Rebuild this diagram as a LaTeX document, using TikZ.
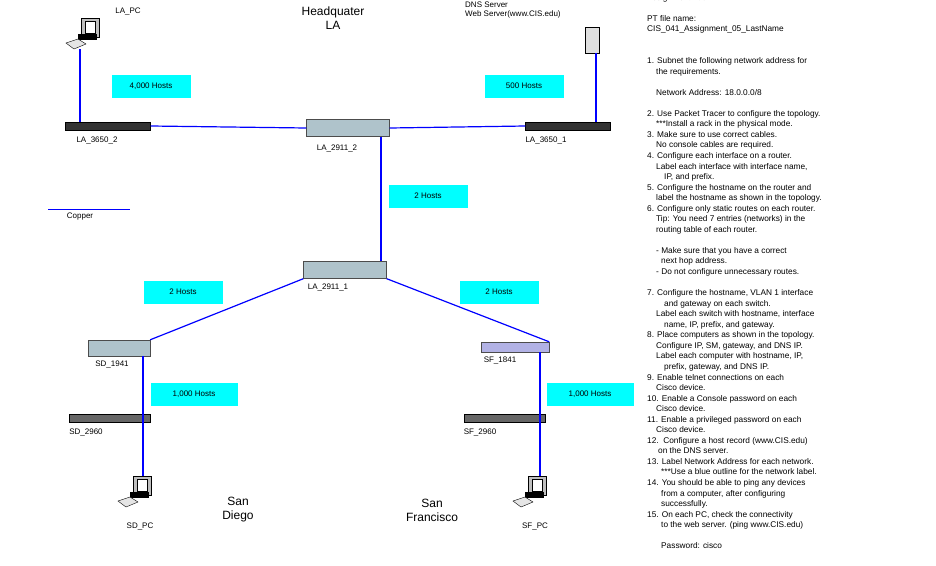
\documentclass[tikz,border=0pt]{standalone}
\usepackage{fontspec}
\setmainfont{Liberation Sans}
\definecolor{hostcyan}{RGB}{0,255,255}
\definecolor{linkblue}{RGB}{0,0,255}
\begin{document}
\begin{tikzpicture}[x=1pt,y=-1pt,
	link/.style={draw=linkblue, line width=1.2pt},
	hosts/.style={fill=hostcyan, minimum width=79pt, minimum height=23pt, inner sep=0pt, font=\fontsize{8}{9}\selectfont},
	lbl/.style={font=\fontsize{8}{9}\selectfont, inner sep=0pt},
	city/.style={font=\fontsize{12}{14}\selectfont, align=center, inner sep=0pt},
	router/.style={draw=gray!60!black, fill=cyan!25!gray!60, minimum width=83pt, minimum height=17pt, inner sep=0pt},
	switch/.style={draw=black, fill=black!80, minimum width=85pt, minimum height=8pt, inner sep=0pt},
	pc/.style={minimum width=44pt, minimum height=40pt, inner sep=0pt,
		path picture={
			\coordinate (c) at (path picture bounding box.center);
			\fill[gray!50, draw=black] ([shift={(-4pt,16pt)}]c) rectangle ([shift={(14pt,-3pt)}]c);
			\fill[white, draw=black] ([shift={(0pt,13pt)}]c) rectangle ([shift={(10pt,1pt)}]c);
			\fill[black] ([shift={(-7pt,0pt)}]c) rectangle ([shift={(12pt,-6pt)}]c);
			\fill[gray!20, draw=black] ([shift={(-19pt,-9pt)}]c) -- ([shift={(-7pt,-5pt)}]c) -- ([shift={(1pt,-10pt)}]c) -- ([shift={(-11pt,-15pt)}]c) -- cycle;
		}},
	server/.style={draw=black, fill=gray!25, minimum width=14pt, minimum height=26pt, inner sep=0pt}]
\useasboundingbox (0,0) rectangle (936,565);
% headquarter
\node[city] (hq) at (333,18) {Headquater\\LA};
\node[pc] (lapc) at (85,34) {};
\node[lbl] (lapclbl) at (128,12) {LA\_PC};
\node[server] (srv) at (592,40) {};
\node[lbl, align=left, anchor=west] (srvlbl) at (465,10) {DNS Server\\Web Server(www.CIS.edu)};
\node[switch] (la2) at (108,126) {};
\node[lbl] at (97,140) {LA\_3650\_2};
\node[router] (r2) at (348,128) {};
\node[lbl] at (337,148) {LA\_2911\_2};
\node[switch] (la1) at (568,126) {};
\node[lbl] at (546,140) {LA\_3650\_1};
\node[router] (r1) at (345,270) {};
\node[lbl] at (328,287) {LA\_2911\_1};
% san diego / san francisco
\node[router, minimum width=62pt, minimum height=16pt] (sd) at (119,348) {};
\node[lbl] at (112,364) {SD\_1941};
\node[router, fill=gray!50!blue!40, minimum width=68pt, minimum height=10pt] (sf) at (515,347) {};
\node[lbl] at (500,360) {SF\_1841};
\node[switch, fill=black!60, minimum width=81pt] (sdsw) at (110,418) {};
\node[lbl] at (86,432) {SD\_2960};
\node[switch, fill=black!60, minimum width=81pt] (sfsw) at (505,418) {};
\node[lbl] at (480,432) {SF\_2960};
\node[pc] (sdpc) at (137,492) {};
\node[lbl] at (140,526) {SD\_PC};
\node[pc] (sfpc) at (532,492) {};
\node[lbl] at (535,526) {SF\_PC};
\node[city] at (238,510) {San\\Diego};
\node[city] at (432,510) {San\\Francisco};
% links
\draw[link] ([yshift=5pt]lapc.south -| 80,0) -- (la2.north -| 80,0);
\draw[link] (la2.east) -- (r2.west);
\draw[link] (r2.east) -- (la1.west);
\draw[link] (srv.south -| 596,0) -- (la1.north -| 596,0);
\draw[link] (r2.south -| 381,0) -- (r1.north -| 381,0);
\draw[link] (r1.south west) -- (sd.north east);
\draw[link] (r1.south east) -- (sf.north east);
\draw[link] (sd.south -| 143,0) -- ([yshift=-4pt]sdpc.north -| 143,0);
\draw[link] (sf.south -| 540,0) -- ([yshift=-4pt]sfpc.north -| 540,0);
% host labels
\node[hosts] at (151,86) {4,000 Hosts};
\node[hosts] at (524,86) {500 Hosts};
\node[hosts] at (428,196) {2 Hosts};
\node[hosts] at (183,292) {2 Hosts};
\node[hosts] at (499,292) {2 Hosts};
\node[hosts, minimum width=87pt] at (194,394) {1,000 Hosts};
\node[hosts, minimum width=87pt] at (590,394) {1,000 Hosts};
% legend
\coordinate (cu1) at (48,209);
\coordinate (cu2) at (130,209);
\draw[linkblue, line width=1pt] (cu1) -- (cu2);
\node[lbl] at (80,217) {Copper};
% assignment text
\node[anchor=north west, align=left, inner sep=0pt, font=\fontsize{8.3}{10.55}\selectfont] (task) at (647,-6) {%
Assignment \#05\\
\mbox{}\\
PT file name:\\
CIS\_041\_Assignment\_05\_LastName\\
\mbox{}\\
\mbox{}\\
1. Subnet the following network address for\\
\hspace*{9pt}the requirements.\\
\mbox{}\\
\hspace*{9pt}Network Address: 18.0.0.0/8\\
\mbox{}\\
2. Use Packet Tracer to configure the topology.\\
\hspace*{9pt}***Install a rack in the physical mode.\\
3. Make sure to use correct cables.\\
\hspace*{9pt}No console cables are required.\\
4. Configure each interface on a router.\\
\hspace*{9pt}Label each interface with interface name,\\
\hspace*{17pt}IP, and prefix.\\
5. Configure the hostname on the router and\\
\hspace*{9pt}label the hostname as shown in the topology.\\
6. Configure only static routes on each router.\\
\hspace*{9pt}Tip: You need 7 entries (networks) in the\\
\hspace*{9pt}routing table of each router.\\
\mbox{}\\
\hspace*{9pt}- Make sure that you have a correct\\
\hspace*{14pt}next hop address.\\
\hspace*{9pt}- Do not configure unnecessary routes.\\
\mbox{}\\
7. Configure the hostname, VLAN 1 interface\\
\hspace*{17pt}and gateway on each switch.\\
\hspace*{9pt}Label each switch with hostname, interface\\
\hspace*{17pt}name, IP, prefix, and gateway.\\
8. Place computers as shown in the topology.\\
\hspace*{9pt}Configure IP, SM, gateway, and DNS IP.\\
\hspace*{9pt}Label each computer with hostname, IP,\\
\hspace*{17pt}prefix, gateway, and DNS IP.\\
9. Enable telnet connections on each\\
\hspace*{9pt}Cisco device.\\
10. Enable a Console password on each\\
\hspace*{9pt}Cisco device.\\
11. Enable a privileged password on each\\
\hspace*{9pt}Cisco device.\\
12.\ \ Configure a host record (www.CIS.edu)\\
\hspace*{11pt}on the DNS server.\\
13. Label Network Address for each network.\\
\hspace*{14pt}***Use a blue outline for the network label.\\
14. You should be able to ping any devices\\
\hspace*{14pt}from a computer, after configuring\\
\hspace*{14pt}successfully.\\
15. On each PC, check the connectivity\\
\hspace*{14pt}to the web server. (ping www.CIS.edu)\\
\mbox{}\\
\hspace*{14pt}Password: cisco};
\end{tikzpicture}
\end{document}
